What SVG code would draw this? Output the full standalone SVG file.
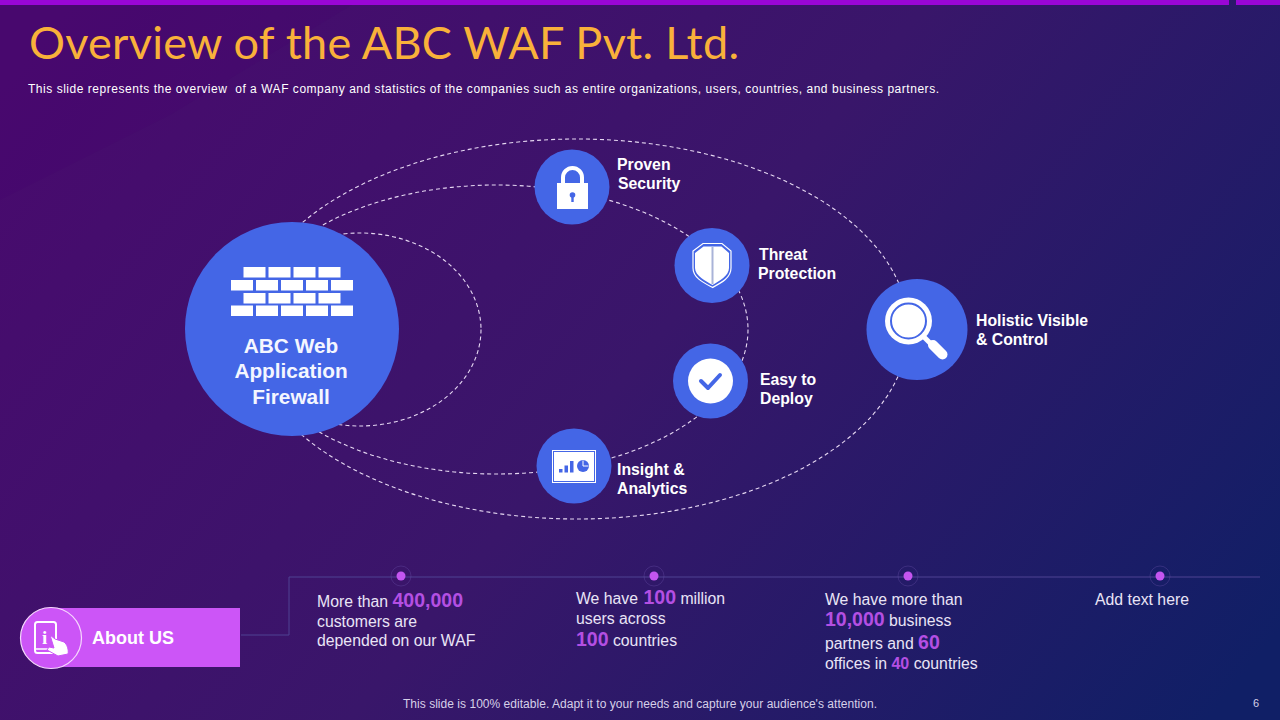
<svg xmlns="http://www.w3.org/2000/svg" width="1280" height="720" viewBox="0 0 1280 720">
<style>
text{font-family:"Liberation Sans",Arial,sans-serif;fill:#fff;white-space:pre}
.lb{font-size:15.800px;font-weight:700}
.hub{font-size:20.800px;font-weight:700;text-anchor:middle;fill:#f4f6ff}
.st{font-size:15.800px;fill:#e9e4f6}
.hi{font-size:19.500px;font-weight:700;fill:#b44fe3}
.hs{font-size:16px;font-weight:700;fill:#b44fe3}
.node{fill:#4466e6}
.dash{fill:none;stroke:#e6d8f2;stroke-width:1.100;stroke-dasharray:4 3}
.ring{fill:none;stroke:#6a4fa8;stroke-width:1;opacity:.35}
.dot{fill:#c455f0}
.w{fill:#fff}
</style>
<defs>
<linearGradient id="bg" gradientUnits="userSpaceOnUse" x1="120" y1="-60" x2="1160" y2="780">
<stop offset="0" stop-color="#490a6e"/><stop offset=".5" stop-color="#39166a"/><stop offset="1" stop-color="#101f66"/>
</linearGradient>
</defs>
<rect id="background" width="1280" height="720" fill="url(#bg)"/>
<polygon points="0,0 360,0 170,115 0,200" fill="#48006e" opacity=".2"/>
<rect x="0" y="0" width="1229" height="5" fill="#9a06d6"/>
<rect x="1236" y="0" width="44" height="5" fill="#9a06d6"/>
<text id="title" x="29" y="59" font-size="45" textLength="710" lengthAdjust="spacing" style="font-family:'Lato','Open Sans',sans-serif;fill:#f9b13a;font-weight:400">Overview of the ABC WAF Pvt. Ltd.</text>
<text id="subtitle" x="28" y="93" font-size="12" textLength="911" lengthAdjust="spacing" fill="#fff">This slide represents the overview  of a WAF company and statistics of the companies such as entire organizations, users, countries, and business partners.</text>

<g id="connectors">
<ellipse class="dash" cx="577" cy="329" rx="331.500" ry="190"/>
<ellipse class="dash" cx="496.500" cy="329.500" rx="251.500" ry="144.500"/>
<ellipse class="dash" cx="360" cy="329.500" rx="121" ry="96.500"/>
<path d="M241 635H289V577H1260" fill="none" stroke="#4f4293" stroke-width="1"/>
</g>

<g id="hub">
<circle class="node" cx="292" cy="329" r="107"/>
<g class="w">
<rect x="243.500" y="267" width="22" height="10.500"/><rect x="268.500" y="267" width="22" height="10.500"/><rect x="293.500" y="267" width="22" height="10.500"/><rect x="318.500" y="267" width="22" height="10.500"/>
<rect x="231" y="280" width="22" height="10.500"/><rect x="256" y="280" width="22" height="10.500"/><rect x="281" y="280" width="22" height="10.500"/><rect x="306" y="280" width="22" height="10.500"/><rect x="331" y="280" width="22" height="10.500"/>
<rect x="243.500" y="293" width="22" height="10.500"/><rect x="268.500" y="293" width="22" height="10.500"/><rect x="293.500" y="293" width="22" height="10.500"/><rect x="318.500" y="293" width="22" height="10.500"/>
<rect x="231" y="305.500" width="22" height="10.500"/><rect x="256" y="305.500" width="22" height="10.500"/><rect x="281" y="305.500" width="22" height="10.500"/><rect x="306" y="305.500" width="22" height="10.500"/><rect x="331" y="305.500" width="22" height="10.500"/>
</g>
<text class="hub" x="291" y="353">ABC Web</text>
<text class="hub" x="291" y="378">Application</text>
<text class="hub" x="291" y="404">Firewall</text>
</g>

<g id="proven-security">
<circle class="node" cx="572" cy="187" r="37.500"/>
<path d="M563 185V177.500a9.500 9.500 0 0 1 19 0V185" fill="none" stroke="#fff" stroke-width="4"/>
<rect class="w" x="557" y="183" width="31" height="26"/>
<circle class="node" cx="572.500" cy="195" r="2.800"/><rect class="node" x="571.300" y="196" width="2.400" height="6"/>
<text class="lb" x="617" y="170">Proven</text><text class="lb" x="618" y="189">Security</text>
</g>

<g id="threat-protection">
<circle class="node" cx="712" cy="265.500" r="37.500"/>
<path d="M703 243.500L722 243.500L731 251V268C731 278 721 283 712.500 287.500C704 283 693 278 693 268V251Z" fill="none" stroke="#fff" stroke-width="1.200"/>
<path d="M703.500 246.500L721.500 246.500L729 253V268C729 276 719 281 712.500 285C706 281 695 276 695 268V253Z" class="w"/>
<rect x="711.500" y="247" width="2" height="37" fill="#a9b3d8"/>
<text class="lb" x="759" y="260">Threat</text><text class="lb" x="758" y="279">Protection</text>
</g>

<g id="easy-to-deploy">
<circle class="node" cx="710.500" cy="381" r="37.500"/>
<circle class="w" cx="710.500" cy="381" r="22.500"/>
<path d="M701 381L708 388L720 375" fill="none" stroke="#4466e6" stroke-width="4" stroke-linecap="round" stroke-linejoin="round"/>
<text class="lb" x="760" y="385">Easy to</text><text class="lb" x="760" y="404">Deploy</text>
</g>

<g id="insight-analytics">
<circle class="node" cx="574" cy="466" r="37.500"/>
<rect x="552.500" y="450.500" width="43" height="32" fill="#4466e6" stroke="#fff" stroke-width="1"/>
<rect class="w" x="554" y="452" width="40" height="29"/>
<rect class="node" x="559" y="469" width="3.500" height="3.500"/><rect class="node" x="564.500" y="465.500" width="3.500" height="7"/><rect class="node" x="570" y="461" width="3.500" height="11.500"/>
<circle class="node" cx="583" cy="466" r="6"/><path d="M583 466V460.500M583 466H588.500" stroke="#fff" stroke-width="1" fill="none"/>
<text class="lb" x="617" y="475">Insight &amp;</text><text class="lb" x="617" y="494">Analytics</text>
</g>

<g id="holistic-visible">
<circle class="node" cx="917" cy="329.500" r="50.500"/>
<circle class="w" cx="908.500" cy="321" r="23.500"/>
<circle cx="908.500" cy="321" r="17.500" fill="#fff" stroke="#4466e6" stroke-width="2"/>
<path d="M924 337L932 345" stroke="#fff" stroke-width="5"/>
<path d="M933 345L942.500 354.500" stroke="#fff" stroke-width="10" stroke-linecap="round"/>
<text class="lb" x="976" y="326">Holistic Visible</text><text class="lb" x="976" y="345">&amp; Control</text>
</g>

<g id="about-us">
<rect x="50" y="608" width="190" height="59" fill="#cc55f7"/>
<circle cx="51" cy="638" r="30.500" fill="#cc55f7" stroke="#f6d9fd" stroke-width="1.200"/>
<rect x="35" y="622" width="21" height="31" rx="2.500" fill="none" stroke="#fff" stroke-width="2"/>
<path d="M36 649H55" stroke="#fff" stroke-width="1.500"/>
<text x="42" y="644" font-size="19" font-weight="700" style="font-family:'Liberation Serif',serif">i</text>
<path d="M50 635L55 639L64 642C67 644 69 650 68 654L58 656L47 650L49 647L54 648Z" class="w" stroke="#cc55f7" stroke-width="1"/>
<text x="92" y="644" font-size="18" font-weight="700" fill="#fff">About US</text>
</g>

<g id="stat-1">
<circle class="ring" cx="401" cy="576" r="10"/><circle class="dot" cx="401" cy="576" r="4.500"/>
<text class="st" x="317" y="607">More than <tspan class="hi">400,000</tspan></text>
<text class="st" x="317" y="627">customers are</text>
<text class="st" x="317" y="646">depended on our WAF</text>
</g>
<g id="stat-2">
<circle class="ring" cx="654" cy="576" r="10"/><circle class="dot" cx="654" cy="576" r="4.500"/>
<text class="st" x="576" y="604">We have <tspan class="hi" dx="1">100</tspan> million</text>
<text class="st" x="576" y="624">users across</text>
<text class="st" x="576" y="646"><tspan class="hi">100</tspan> countries</text>
</g>
<g id="stat-3">
<circle class="ring" cx="908" cy="576" r="10"/><circle class="dot" cx="908" cy="576" r="4.500"/>
<text class="st" x="825" y="605">We have more than</text>
<text class="st" x="825" y="626"><tspan class="hi">10,000</tspan> business</text>
<text class="st" x="825" y="649">partners and <tspan class="hi">60</tspan></text>
<text class="st" x="825" y="669">offices in <tspan class="hs">40</tspan> countries</text>
</g>
<g id="stat-4">
<circle class="ring" cx="1160" cy="576" r="10"/><circle class="dot" cx="1160" cy="576" r="4.500"/>
<text class="st" x="1095" y="605">Add text here</text>
</g>

<text id="footer" x="403" y="708" font-size="12" textLength="474" lengthAdjust="spacing" style="fill:#d6d0e8">This slide is 100% editable. Adapt it to your needs and capture your audience's attention.</text>
<text id="page" x="1253" y="707" font-size="11" style="fill:#d6d0e8">6</text>
</svg>
